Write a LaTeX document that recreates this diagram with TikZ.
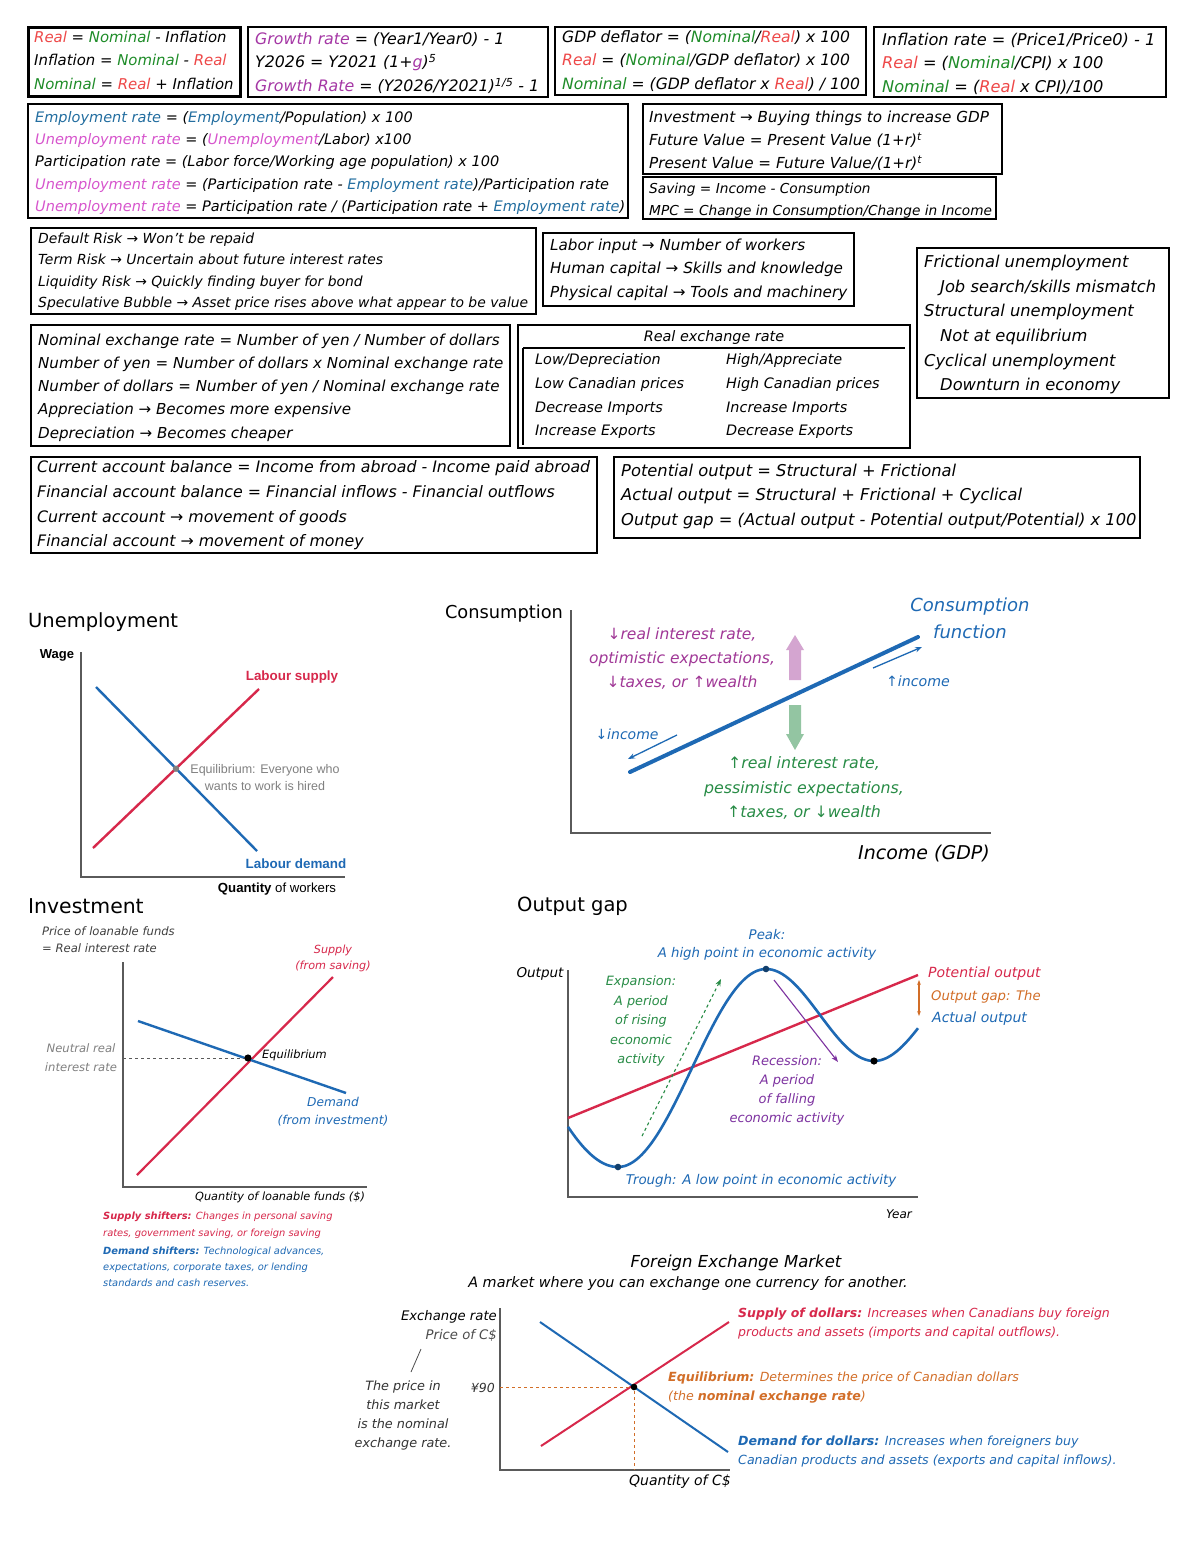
\documentclass[tikz,border=0pt]{standalone}
\usepackage{fontspec}
\setmainfont{DejaVu Sans}
\newfontfamily\arialf{Liberation Sans}
\usetikzlibrary{arrows.meta}
\definecolor{cRed}{RGB}{238,72,72}
\definecolor{cGreen}{RGB}{30,140,40}
\definecolor{cPurple}{RGB}{165,55,165}
\definecolor{cBlue}{RGB}{35,110,160}
\definecolor{cMag}{RGB}{215,85,205}
\definecolor{gBlue}{RGB}{30,105,180}
\definecolor{gRed}{RGB}{215,40,75}
\definecolor{gGreen}{RGB}{40,140,70}
\definecolor{gPurple}{RGB}{160,55,150}
\definecolor{gViolet}{RGB}{125,50,160}
\definecolor{gOrange}{RGB}{210,110,40}
\definecolor{axisgray}{RGB}{90,90,90}
\newcommand\clrR[1]{\textcolor{cRed}{#1}}
\newcommand\clrG[1]{\textcolor{cGreen}{#1}}
\newcommand\clrP[1]{\textcolor{cPurple}{#1}}
\newcommand\clrB[1]{\textcolor{cBlue}{#1}}
\newcommand\clrM[1]{\textcolor{cMag}{#1}}
\def\bsz{13.5}
\newcommand\bline[4]{\node[bt] (#1) at (#2,{#3+2.5}) {#4};}
\begin{document}
\begin{tikzpicture}[x=1pt,y=-1pt,
  boxline/.style={draw=black, line width=2},
  bt/.style={anchor=mid west, inner sep=0pt, font=\fontsize{\bsz}{16}\selectfont\itshape},
  ttl/.style={anchor=west, inner sep=0pt, font=\fontsize{19.5}{22}\selectfont},
  gt/.style={inner sep=0pt, font=\fontsize{12}{14}\selectfont\itshape},
  st/.style={inner sep=0pt, font=\fontsize{10}{12}\selectfont\itshape},
  axisline/.style={draw=axisgray, line width=1.3}]
\useasboundingbox[fill=white] (0,0) rectangle (1200,1553);

% ---------- formula boxes ----------
\draw[boxline, line width=3] (28,27) rectangle (240,96);
\def\bsz{14.9}
\bline{a1}{34}{37}{\clrR{Real} = \clrG{Nominal} - Inflation}
\bline{a2}{34}{60}{Inflation = \clrG{Nominal} - \clrR{Real}}
\bline{a3}{34}{84}{\clrG{Nominal} = \clrR{Real} + Inflation}

\draw[boxline] (248,27) rectangle (548,97);
\def\bsz{15.8}
\bline{b1}{255}{39}{\clrP{Growth rate} = (Year1/Year0) - 1}
\bline{b2}{255}{62}{Y2026 = Y2021 (1+\clrP{g})\textsuperscript{5}}
\bline{b3}{255}{86}{\clrP{Growth Rate} = (Y2026/Y2021)\textsuperscript{1/5} - 1}

\draw[boxline] (555,27) rectangle (866,95);
\def\bsz{15.6}
\bline{c1}{562}{37}{GDP deflator = (\clrG{Nominal}/\clrR{Real}) x 100}
\bline{c2}{562}{60}{\clrR{Real} = (\clrG{Nominal}/GDP deflator) x 100}
\bline{c3}{562}{84}{\clrG{Nominal} = (GDP deflator x \clrR{Real}) / 100}

\draw[boxline, line width=2.5] (874,27) rectangle (1166,97);
\def\bsz{16.2}
\bline{d1}{882}{40}{Inflation rate = (Price1/Price0) - 1}
\bline{d2}{882}{63}{\clrR{Real} = (\clrG{Nominal}/CPI) x 100}
\bline{d3}{882}{87}{\clrG{Nominal} = (\clrR{Real} x CPI)/100}

\draw[boxline, line width=2.5] (28,104) rectangle (628,218);
\def\bsz{14.5}
\bline{e1}{35}{117}{\clrB{Employment rate} = (\clrB{Employment}/Population) x 100}
\bline{e2}{35}{139}{\clrM{Unemployment rate} = (\clrM{Unemployment}/Labor) x100}
\bline{e3}{35}{161}{Participation rate = (Labor force/Working age population) x 100}
\bline{e4}{35}{184}{\clrM{Unemployment rate} = (Participation rate - \clrB{Employment rate})/Participation rate}
\bline{e5}{35}{206}{\clrM{Unemployment rate} = Participation rate / (Participation rate + \clrB{Employment rate})}

\draw[boxline] (643,104) rectangle (1002,174);
\def\bsz{15.2}
\bline{f1}{649}{117}{Investment → Buying things to increase GDP}
\bline{f2}{649}{140}{Future Value = Present Value (1+r)\textsuperscript{t}}
\bline{f3}{649}{163}{Present Value = Future Value/(1+r)\textsuperscript{t}}

\draw[boxline] (643,177) rectangle (996,219);
\def\bsz{13.7}
\bline{g1}{649}{188}{Saving = Income - Consumption}
\bline{g2}{649}{210}{MPC = Change in Consumption/Change in Income}

\draw[boxline] (31,228) rectangle (536,314);
\def\bsz{13.9}
\bline{h1}{38}{238}{Default Risk → Won't be repaid}
\bline{h2}{38}{259}{Term Risk → Uncertain about future interest rates}
\bline{h3}{38}{281}{Liquidity Risk → Quickly finding buyer for bond}
\bline{h4}{38}{302}{Speculative Bubble → Asset price rises above what appear to be value}

\draw[boxline] (543,233) rectangle (854,306);
\def\bsz{15.2}
\bline{i1}{550}{245}{Labor input → Number of workers}
\bline{i2}{550}{268}{Human capital → Skills and knowledge}
\bline{i3}{550}{292}{Physical capital → Tools and machinery}

\draw[boxline] (917,248) rectangle (1169,398);
\def\bsz{16.3}
\bline{j1}{924}{262}{Frictional unemployment}
\bline{j2}{940}{287}{Job search/skills mismatch}
\bline{j3}{924}{311}{Structural unemployment}
\bline{j4}{940}{336}{Not at equilibrium}
\bline{j5}{924}{361}{Cyclical unemployment}
\bline{j6}{940}{385}{Downturn in economy}

\draw[boxline] (31,325) rectangle (510,446);
\def\bsz{15.1}
\bline{k1}{38}{340}{Nominal exchange rate = Number of yen / Number of dollars}
\bline{k2}{38}{363}{Number of yen = Number of dollars x Nominal exchange rate}
\bline{k3}{38}{386}{Number of dollars = Number of yen / Nominal exchange rate}
\bline{k4}{38}{409}{Appreciation → Becomes more expensive}
\bline{k5}{38}{433}{Depreciation → Becomes cheaper}

\draw[boxline] (518,325) rectangle (910,448);
\draw[line width=1.2] (523,348) -- (905,348);
\draw[line width=1.2] (523,348) -- (523,445);
\def\bsz{14.4}
\node[bt, anchor=center] (l0) at (714,338) {Real exchange rate};
\bline{l1}{535}{359}{Low/Depreciation}
\bline{l2}{535}{383}{Low Canadian prices}
\bline{l3}{535}{407}{Decrease Imports}
\bline{l4}{535}{430}{Increase Exports}
\bline{l5}{726}{359}{High/Appreciate}
\bline{l6}{726}{383}{High Canadian prices}
\bline{l7}{726}{407}{Increase Imports}
\bline{l8}{726}{430}{Decrease Exports}

\draw[boxline, line width=2.5] (31,457) rectangle (597,553);
\def\bsz{15.8}
\bline{m1}{37}{467}{Current account balance = Income from abroad - Income paid abroad}
\bline{m2}{37}{492}{Financial account balance = Financial inflows - Financial outflows}
\bline{m3}{37}{517}{Current account → movement of goods}
\bline{m4}{37}{541}{Financial account → movement of money}

\draw[boxline, line width=2.5] (614,457) rectangle (1140,538);
\def\bsz{16.3}
\bline{n1}{621}{471}{Potential output = Structural + Frictional}
\bline{n2}{621}{495}{Actual output = Structural + Frictional + Cyclical}
\bline{n3}{621}{520}{Output gap = (Actual output - Potential output/Potential) x 100}

% ---------- Unemployment ----------
\node[ttl] (tU) at (28,622) {Unemployment};
\node[inner sep=0pt, font=\arialf\bfseries\fontsize{13}{15}\selectfont] (wage) at (57,655) {Wage};
\draw[axisline] (81,652) -- (81,877) -- (345,877);
\draw[gBlue, line width=2.4] (96,687) -- (257,851);
\draw[gRed, line width=2.4] (93,848) -- (259,689);
\fill[gray] (176,768.7) circle (3.2);
\node[inner sep=0pt, text=gray, align=center, font=\arialf\fontsize{12.5}{17}\selectfont] (ueq) at (265,778) {Equilibrium: Everyone who\\wants to work is hired};
\node[inner sep=0pt, text=gRed, font=\arialf\bfseries\fontsize{13.4}{15}\selectfont] (lsup) at (292,677) {Labour supply};
\node[inner sep=0pt, text=gBlue, font=\arialf\bfseries\fontsize{13.4}{15}\selectfont] (ldem) at (296,864) {Labour demand};
\node[inner sep=0pt, font=\arialf\fontsize{13.2}{15}\selectfont] (qw) at (277,889) {\textbf{Quantity} of workers};

% ---------- Consumption ----------
\node[inner sep=0pt, font=\fontsize{17.8}{20}\selectfont] (tC) at (504,614) {Consumption};
\draw[axisline] (571,610) -- (571,833) -- (991,833);
\node[inner sep=0pt, font=\fontsize{19}{22}\selectfont\itshape] (incg) at (924,854) {Income (GDP)};
\draw[gBlue, line width=4, line cap=round] (630,772) -- (918,637);
\draw[gBlue, line width=1.3, -{Stealth[length=7pt]}] (873,668) -- (922,647);
\draw[gBlue, line width=1.3, -{Stealth[length=7pt]}] (677,735) -- (628,759);
\node[gt, text=gBlue, font=\fontsize{14.2}{16}\selectfont\itshape] (incup) at (918,681) {↑income};
\node[gt, text=gBlue, font=\fontsize{14}{16}\selectfont\itshape] (incdn) at (627,734) {↓income};
\node[inner sep=0pt, text=gBlue, align=center, font=\fontsize{18}{27}\selectfont\itshape] (cf) at (970,618) {Consumption\\function};
\fill[fill=gPurple!45] (789,680) -- (789,650) -- (786,650) -- (795,635) -- (804,650) -- (801,650) -- (801,680) -- cycle;
\fill[fill=gGreen!50] (789,705) -- (789,734) -- (786,734) -- (795,750) -- (804,734) -- (801,734) -- (801,705) -- cycle;
\node[gt, text=gPurple, align=center, font=\fontsize{15.5}{24}\selectfont\itshape] (upt) at (682,659) {↓real interest rate,\\optimistic expectations,\\↓taxes, or ↑wealth};
\node[gt, text=gGreen, align=center, font=\fontsize{15.8}{24.5}\selectfont\itshape] (dnt) at (804,788) {↑real interest rate,\\pessimistic expectations,\\↑taxes, or ↓wealth};

% ---------- Investment ----------
\node[ttl, font=\fontsize{20.4}{23}\selectfont] (tI) at (28,906) {Investment};
\node[st, text=black!75, align=left, anchor=west, font=\fontsize{11.6}{17}\selectfont\itshape] (pl) at (42,940) {Price of loanable funds\\= Real interest rate};
\draw[axisline, line width=1.1] (123,962) -- (123,1187) -- (367,1187);
\draw[gRed, line width=2.2] (137,1175) -- (333,977);
\draw[gBlue, line width=2.4] (138,1021) -- (346,1093);
\draw[dashed, axisgray, line width=0.8] (123,1058) -- (248,1058);
\fill (248,1058) circle (3.6);
\node[st, text=gray, align=center, font=\fontsize{11.6}{19}\selectfont\itshape] (nr) at (81,1058) {Neutral real\\interest rate};
\node[st, anchor=west, text=black, font=\fontsize{11.4}{13}\selectfont\itshape] (ieq) at (262,1055) {Equilibrium};
\node[st, text=gRed, align=center, font=\fontsize{11.2}{16}\selectfont\itshape] (isup) at (333,958) {Supply\\(from saving)};
\node[st, text=gBlue, align=center, font=\fontsize{12.2}{18}\selectfont\itshape] (idem) at (333,1112) {Demand\\(from investment)};
\node[st, text=black, font=\fontsize{11.3}{13}\selectfont\itshape] (qlf) at (280,1197) {Quantity of loanable funds (\$)};
\node[st, text=gRed, align=left, anchor=north west, font=\fontsize{9.9}{16.5}\selectfont\itshape] (ssh) at (103,1212) {\textbf{Supply shifters:} Changes in personal saving\\rates, government saving, or foreign saving};
\node[st, text=gBlue, align=left, anchor=north west, font=\fontsize{9.9}{16}\selectfont\itshape] (dsh) at (103,1247) {\textbf{Demand shifters:} Technological advances,\\expectations, corporate taxes, or lending\\standards and cash reserves.};

% ---------- Output gap ----------
\node[ttl] (tO) at (517,906) {Output gap};
\draw[axisline] (568,970) -- (568,1197) -- (918,1197);
\node[gt, font=\fontsize{13.5}{16}\selectfont\itshape] (oout) at (540,974) {Output};
\node[gt, font=\fontsize{12}{14}\selectfont\itshape] (oyear) at (899,1214) {Year};
\draw[gRed, line width=2.4] (568,1118) -- (918,975);
\draw[gBlue, line width=2.6, domain=568:618, samples=20] plot (\x,{1068+99*cos((\x-618)/168*180)});
\draw[gBlue, line width=2.6, domain=618:766, samples=50] plot (\x,{1068+99*cos((\x-618)/148*180)});
\draw[gBlue, line width=2.6, domain=766:918, samples=50] plot (\x,{1015-46*cos((\x-766)/108*180)});
\fill[gBlue!60!black] (618,1167) circle (3.3);
\fill[gBlue!60!black] (766,969) circle (3.3);
\fill[black] (874,1061) circle (3.6);
\draw[gGreen, dashed, line width=1.1, -{Stealth[length=7pt]}] (642,1136) -- (721,979);
\draw[gViolet, line width=1.1, -{Stealth[length=7pt]}] (774,980) -- (838,1062);
\draw[gOrange, line width=1.3, {Stealth[length=5pt]}-{Stealth[length=5pt]}] (919,980) -- (919,1016);
\node[gt, text=gBlue, align=center, font=\fontsize{13.3}{18}\selectfont\itshape] (peak) at (767,945) {Peak:\\A high point in economic activity};
\node[gt, text=gGreen, align=center, font=\fontsize{12.8}{19.5}\selectfont\itshape] (exp) at (641,1021) {Expansion:\\A period\\of rising\\economic\\activity};
\node[gt, text=gViolet, align=center, font=\fontsize{13}{19}\selectfont\itshape] (rec) at (787,1090) {Recession:\\A period\\of falling\\economic activity};
\node[gt, text=gBlue, font=\fontsize{13.4}{16}\selectfont\itshape] (trough) at (761,1181) {Trough: A low point in economic activity};
\node[gt, text=gRed, anchor=west, font=\fontsize{14}{16}\selectfont\itshape] (pot) at (928,974) {Potential output};
\node[gt, text=gOrange, anchor=west, font=\fontsize{13.2}{16}\selectfont\itshape] (ogap) at (931,997) {Output gap: The};
\node[gt, text=gBlue, anchor=west, font=\fontsize{14}{16}\selectfont\itshape] (act) at (932,1019) {Actual output};

% ---------- Foreign exchange market ----------
\node[gt, font=\fontsize{16.5}{19}\selectfont\itshape] (fxt) at (736,1263) {Foreign Exchange Market};
\node[gt, font=\fontsize{14.4}{17}\selectfont\itshape] (fxs) at (688,1284) {A market where you can exchange one currency for another.};
\draw[axisline, line width=1.1] (500,1308) -- (500,1470) -- (730,1470);
\node[gt, align=right, anchor=east, font=\fontsize{13.2}{19}\selectfont\itshape] (fxy) at (497,1326) {Exchange rate\\\textcolor{black!70}{Price of C\$}};
\draw[black!70, line width=0.8] (421,1349) -- (411,1372);
\node[gt, text=black!80, align=center, font=\fontsize{12.8}{19}\selectfont\itshape] (fxp) at (403,1415) {The price in\\this market\\is the nominal\\exchange rate.};
\node[gt, text=black!80, anchor=east, font=\fontsize{12.5}{14}\selectfont\itshape] (y90) at (495,1388) {¥90};
\draw[gRed, line width=2] (541,1446) -- (729,1322);
\draw[gBlue, line width=2] (540,1322) -- (728,1452);
\draw[gOrange, dashed, line width=0.9] (500,1387) -- (634,1387) -- (634,1470);
\fill (634,1387) circle (3.3);
\node[gt, font=\fontsize{14}{16}\selectfont\itshape] (fxq) at (680,1482) {Quantity of C\$};
\node[gt, text=gRed, align=left, anchor=west, font=\fontsize{12.5}{19}\selectfont\itshape] (fxsup) at (738,1324) {\textbf{Supply of dollars:} Increases when Canadians buy foreign\\products and assets (imports and capital outflows).};
\node[gt, text=gOrange, align=left, anchor=west, font=\fontsize{12.6}{19}\selectfont\itshape] (fxeq) at (668,1388) {\textbf{Equilibrium:} Determines the price of Canadian dollars\\(the \textbf{nominal exchange rate})};
\node[gt, text=gBlue, align=left, anchor=west, font=\fontsize{12.6}{19}\selectfont\itshape] (fxdem) at (738,1452) {\textbf{Demand for dollars:} Increases when foreigners buy\\Canadian products and assets (exports and capital inflows).};
\end{tikzpicture}
\end{document}
